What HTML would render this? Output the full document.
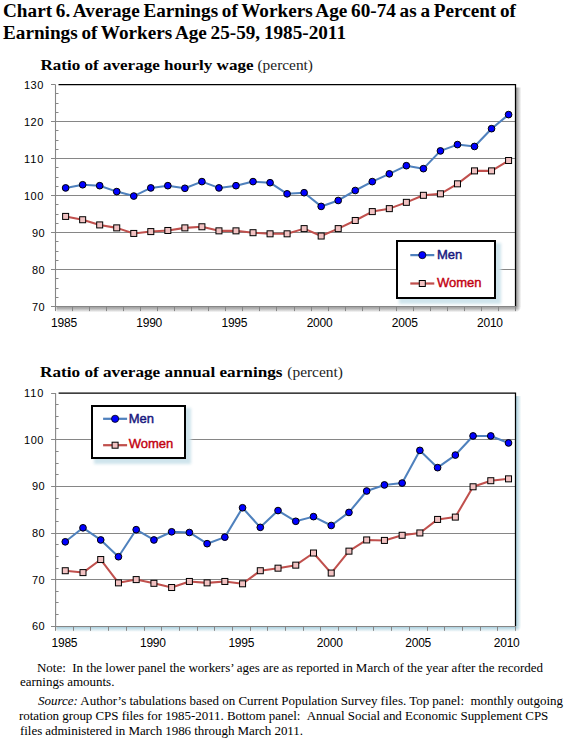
<!DOCTYPE html>
<html><head><meta charset="utf-8"><style>
html,body{margin:0;padding:0;background:#fff;width:567px;height:742px;overflow:hidden}
svg{display:block}
.ser{font-family:"Liberation Serif",serif}
.ax{font-family:"Liberation Sans",sans-serif;fill:#000}
.lg{font-family:"Liberation Sans",sans-serif}
</style></head><body>
<svg width="567" height="742" viewBox="0 0 567 742">
<defs>
<filter id="blur" x="-10%" y="-10%" width="120%" height="120%"><feGaussianBlur stdDeviation="1.6"/></filter>
<linearGradient id="gr" x1="0" x2="1" y1="0" y2="0"><stop offset="0" stop-color="#959595"/><stop offset="1" stop-color="#fafafa"/></linearGradient>
<linearGradient id="gb" x1="0" x2="0" y1="0" y2="1"><stop offset="0" stop-color="#959595"/><stop offset="1" stop-color="#fafafa"/></linearGradient>
<radialGradient id="gc" cx="0" cy="0" r="1"><stop offset="0" stop-color="#959595"/><stop offset="1" stop-color="#fff"/></radialGradient>
<linearGradient id="br" x1="0" x2="1" y1="0" y2="0"><stop offset="0" stop-color="#a8cedc"/><stop offset="1" stop-color="#fbfdfd"/></linearGradient>
<linearGradient id="bb" x1="0" x2="0" y1="0" y2="1"><stop offset="0" stop-color="#a8cedc"/><stop offset="1" stop-color="#fbfdfd"/></linearGradient>
<radialGradient id="bc" cx="0" cy="0" r="1"><stop offset="0" stop-color="#a8cedc"/><stop offset="1" stop-color="#fff"/></radialGradient>
<linearGradient id="gl"><stop offset="0" stop-color="#cfe4ec"/><stop offset="1" stop-color="#cfe4ec"/></linearGradient>
<linearGradient id="bl"><stop offset="0" stop-color="#cfe4ec"/><stop offset="1" stop-color="#cfe4ec"/></linearGradient>
</defs>
<g class="ser" font-weight="bold" font-size="18" fill="#000">
<text x="3" y="17" textLength="513" lengthAdjust="spacingAndGlyphs" word-spacing="-1">Chart 6. Average Earnings of Workers Age 60-74 as a Percent of</text>
<text x="3" y="38.7" textLength="343" lengthAdjust="spacingAndGlyphs" word-spacing="-1">Earnings of Workers Age 25-59, 1985-2011</text>
</g>
<g class="ser" font-size="14.3" fill="#000">
<text x="40.5" y="69.8"><tspan font-weight="bold" textLength="213" lengthAdjust="spacingAndGlyphs">Ratio of average hourly wage</tspan></text>
<text x="257.5" y="69.8" fill="#222" textLength="55.5" lengthAdjust="spacingAndGlyphs">(percent)</text>
<text x="40" y="376.8"><tspan font-weight="bold" textLength="242.5" lengthAdjust="spacingAndGlyphs">Ratio of average annual earnings</tspan></text>
<text x="287.3" y="376.8" fill="#222" textLength="55.6" lengthAdjust="spacingAndGlyphs">(percent)</text>
</g>
<rect x="516" y="87.5" width="5" height="219.6" fill="url(#gr)"/>
<rect x="56.5" y="307.1" width="459.5" height="5" fill="url(#gb)"/>
<rect x="516" y="307.1" width="5" height="5" fill="url(#gc)"/>
<rect x="55.5" y="84.5" width="460" height="222.1" fill="#fff"/>
<line x1="55.5" y1="269.5" x2="515.5" y2="269.5" stroke="#868686" stroke-width="1"/>
<line x1="55.5" y1="232.5" x2="515.5" y2="232.5" stroke="#868686" stroke-width="1"/>
<line x1="55.5" y1="195.5" x2="515.5" y2="195.5" stroke="#868686" stroke-width="1"/>
<line x1="55.5" y1="158.5" x2="515.5" y2="158.5" stroke="#868686" stroke-width="1"/>
<line x1="55.5" y1="121.5" x2="515.5" y2="121.5" stroke="#868686" stroke-width="1"/>
<path d="M58.5 84.5H515.5V306.6" fill="none" stroke="#000" stroke-width="1.25"/>
<line x1="55.5" y1="84.5" x2="55.5" y2="310.6" stroke="#868686" stroke-width="1.1"/>
<line x1="51" y1="306.5" x2="55.5" y2="306.5" stroke="#868686" stroke-width="1"/>
<text x="24" y="310.6" font-size="11" class="ax" textLength="12.6" lengthAdjust="spacing" dx="7.9">70</text>
<line x1="51" y1="269.5" x2="55.5" y2="269.5" stroke="#868686" stroke-width="1"/>
<text x="24" y="273.58" font-size="11" class="ax" textLength="12.6" lengthAdjust="spacing" dx="7.9">80</text>
<line x1="51" y1="232.5" x2="55.5" y2="232.5" stroke="#868686" stroke-width="1"/>
<text x="24" y="236.57" font-size="11" class="ax" textLength="12.6" lengthAdjust="spacing" dx="7.9">90</text>
<line x1="51" y1="195.5" x2="55.5" y2="195.5" stroke="#868686" stroke-width="1"/>
<text x="24" y="199.55" font-size="11" class="ax" textLength="19.3" lengthAdjust="spacing" dx="0">100</text>
<line x1="51" y1="158.5" x2="55.5" y2="158.5" stroke="#868686" stroke-width="1"/>
<text x="24" y="162.53" font-size="11" class="ax" textLength="19.3" lengthAdjust="spacing" dx="0">110</text>
<line x1="51" y1="121.5" x2="55.5" y2="121.5" stroke="#868686" stroke-width="1"/>
<text x="24" y="125.52" font-size="11" class="ax" textLength="19.3" lengthAdjust="spacing" dx="0">120</text>
<line x1="51" y1="84.5" x2="55.5" y2="84.5" stroke="#868686" stroke-width="1"/>
<text x="24" y="88.5" font-size="11" class="ax" textLength="19.3" lengthAdjust="spacing" dx="0">130</text>
<line x1="55.5" y1="297.5" x2="58.5" y2="297.5" stroke="#868686" stroke-width="1"/>
<line x1="55.5" y1="288.5" x2="58.5" y2="288.5" stroke="#868686" stroke-width="1"/>
<line x1="55.5" y1="278.5" x2="58.5" y2="278.5" stroke="#868686" stroke-width="1"/>
<line x1="55.5" y1="260.5" x2="58.5" y2="260.5" stroke="#868686" stroke-width="1"/>
<line x1="55.5" y1="251.5" x2="58.5" y2="251.5" stroke="#868686" stroke-width="1"/>
<line x1="55.5" y1="241.5" x2="58.5" y2="241.5" stroke="#868686" stroke-width="1"/>
<line x1="55.5" y1="223.5" x2="58.5" y2="223.5" stroke="#868686" stroke-width="1"/>
<line x1="55.5" y1="214.5" x2="58.5" y2="214.5" stroke="#868686" stroke-width="1"/>
<line x1="55.5" y1="204.5" x2="58.5" y2="204.5" stroke="#868686" stroke-width="1"/>
<line x1="55.5" y1="186.5" x2="58.5" y2="186.5" stroke="#868686" stroke-width="1"/>
<line x1="55.5" y1="177.5" x2="58.5" y2="177.5" stroke="#868686" stroke-width="1"/>
<line x1="55.5" y1="167.5" x2="58.5" y2="167.5" stroke="#868686" stroke-width="1"/>
<line x1="55.5" y1="149.5" x2="58.5" y2="149.5" stroke="#868686" stroke-width="1"/>
<line x1="55.5" y1="140.5" x2="58.5" y2="140.5" stroke="#868686" stroke-width="1"/>
<line x1="55.5" y1="130.5" x2="58.5" y2="130.5" stroke="#868686" stroke-width="1"/>
<line x1="55.5" y1="112.5" x2="58.5" y2="112.5" stroke="#868686" stroke-width="1"/>
<line x1="55.5" y1="103.5" x2="58.5" y2="103.5" stroke="#868686" stroke-width="1"/>
<line x1="55.5" y1="93.5" x2="58.5" y2="93.5" stroke="#868686" stroke-width="1"/>
<line x1="51" y1="306.5" x2="515.5" y2="306.5" stroke="#868686" stroke-width="1.1"/>
<line x1="55.5" y1="306.6" x2="55.5" y2="311.1" stroke="#868686" stroke-width="1"/>
<line x1="72.5" y1="306.6" x2="72.5" y2="311.1" stroke="#868686" stroke-width="1"/>
<line x1="89.5" y1="306.6" x2="89.5" y2="311.1" stroke="#868686" stroke-width="1"/>
<line x1="106.5" y1="306.6" x2="106.5" y2="311.1" stroke="#868686" stroke-width="1"/>
<line x1="123.5" y1="306.6" x2="123.5" y2="311.1" stroke="#868686" stroke-width="1"/>
<line x1="140.5" y1="306.6" x2="140.5" y2="311.1" stroke="#868686" stroke-width="1"/>
<line x1="157.5" y1="306.6" x2="157.5" y2="311.1" stroke="#868686" stroke-width="1"/>
<line x1="174.5" y1="306.6" x2="174.5" y2="311.1" stroke="#868686" stroke-width="1"/>
<line x1="191.5" y1="306.6" x2="191.5" y2="311.1" stroke="#868686" stroke-width="1"/>
<line x1="208.5" y1="306.6" x2="208.5" y2="311.1" stroke="#868686" stroke-width="1"/>
<line x1="225.5" y1="306.6" x2="225.5" y2="311.1" stroke="#868686" stroke-width="1"/>
<line x1="242.5" y1="306.6" x2="242.5" y2="311.1" stroke="#868686" stroke-width="1"/>
<line x1="259.5" y1="306.6" x2="259.5" y2="311.1" stroke="#868686" stroke-width="1"/>
<line x1="276.5" y1="306.6" x2="276.5" y2="311.1" stroke="#868686" stroke-width="1"/>
<line x1="294.5" y1="306.6" x2="294.5" y2="311.1" stroke="#868686" stroke-width="1"/>
<line x1="311.5" y1="306.6" x2="311.5" y2="311.1" stroke="#868686" stroke-width="1"/>
<line x1="328.5" y1="306.6" x2="328.5" y2="311.1" stroke="#868686" stroke-width="1"/>
<line x1="345.5" y1="306.6" x2="345.5" y2="311.1" stroke="#868686" stroke-width="1"/>
<line x1="362.5" y1="306.6" x2="362.5" y2="311.1" stroke="#868686" stroke-width="1"/>
<line x1="379.5" y1="306.6" x2="379.5" y2="311.1" stroke="#868686" stroke-width="1"/>
<line x1="396.5" y1="306.6" x2="396.5" y2="311.1" stroke="#868686" stroke-width="1"/>
<line x1="413.5" y1="306.6" x2="413.5" y2="311.1" stroke="#868686" stroke-width="1"/>
<line x1="430.5" y1="306.6" x2="430.5" y2="311.1" stroke="#868686" stroke-width="1"/>
<line x1="447.5" y1="306.6" x2="447.5" y2="311.1" stroke="#868686" stroke-width="1"/>
<line x1="464.5" y1="306.6" x2="464.5" y2="311.1" stroke="#868686" stroke-width="1"/>
<line x1="481.5" y1="306.6" x2="481.5" y2="311.1" stroke="#868686" stroke-width="1"/>
<line x1="498.5" y1="306.6" x2="498.5" y2="311.1" stroke="#868686" stroke-width="1"/>
<line x1="515.5" y1="306.6" x2="515.5" y2="311.1" stroke="#868686" stroke-width="1"/>
<text x="51.12" y="327.1" font-size="12" class="ax" textLength="26" lengthAdjust="spacing">1985</text>
<text x="136.3" y="327.1" font-size="12" class="ax" textLength="26" lengthAdjust="spacing">1990</text>
<text x="221.49" y="327.1" font-size="12" class="ax" textLength="26" lengthAdjust="spacing">1995</text>
<text x="306.67" y="327.1" font-size="12" class="ax" textLength="26" lengthAdjust="spacing">2000</text>
<text x="391.86" y="327.1" font-size="12" class="ax" textLength="26" lengthAdjust="spacing">2005</text>
<text x="477.04" y="327.1" font-size="12" class="ax" textLength="26" lengthAdjust="spacing">2010</text>
<polyline points="65.62,216.41 82.66,219.74 99.69,224.92 116.73,227.88 133.77,233.44 150.8,231.59 167.84,230.48 184.88,227.88 201.91,226.77 218.95,230.85 235.99,230.85 253.03,232.7 270.06,233.81 287.1,233.81 304.14,228.62 321.17,236.03 338.21,228.62 355.25,220.48 372.29,211.6 389.32,208.64 406.36,202.34 423.4,195.31 440.43,193.83 457.47,183.83 474.51,170.88 491.54,170.88 508.58,160.51" fill="none" stroke="#C0504D" stroke-width="2.05" stroke-linejoin="round"/>
<rect x="62.62" y="213.41" width="6" height="6" fill="#F2C2C2" stroke="#000" stroke-width="1"/>
<rect x="79.66" y="216.74" width="6" height="6" fill="#F2C2C2" stroke="#000" stroke-width="1"/>
<rect x="96.69" y="221.92" width="6" height="6" fill="#F2C2C2" stroke="#000" stroke-width="1"/>
<rect x="113.73" y="224.88" width="6" height="6" fill="#F2C2C2" stroke="#000" stroke-width="1"/>
<rect x="130.77" y="230.44" width="6" height="6" fill="#F2C2C2" stroke="#000" stroke-width="1"/>
<rect x="147.8" y="228.59" width="6" height="6" fill="#F2C2C2" stroke="#000" stroke-width="1"/>
<rect x="164.84" y="227.48" width="6" height="6" fill="#F2C2C2" stroke="#000" stroke-width="1"/>
<rect x="181.88" y="224.88" width="6" height="6" fill="#F2C2C2" stroke="#000" stroke-width="1"/>
<rect x="198.91" y="223.77" width="6" height="6" fill="#F2C2C2" stroke="#000" stroke-width="1"/>
<rect x="215.95" y="227.85" width="6" height="6" fill="#F2C2C2" stroke="#000" stroke-width="1"/>
<rect x="232.99" y="227.85" width="6" height="6" fill="#F2C2C2" stroke="#000" stroke-width="1"/>
<rect x="250.03" y="229.7" width="6" height="6" fill="#F2C2C2" stroke="#000" stroke-width="1"/>
<rect x="267.06" y="230.81" width="6" height="6" fill="#F2C2C2" stroke="#000" stroke-width="1"/>
<rect x="284.1" y="230.81" width="6" height="6" fill="#F2C2C2" stroke="#000" stroke-width="1"/>
<rect x="301.14" y="225.62" width="6" height="6" fill="#F2C2C2" stroke="#000" stroke-width="1"/>
<rect x="318.17" y="233.03" width="6" height="6" fill="#F2C2C2" stroke="#000" stroke-width="1"/>
<rect x="335.21" y="225.62" width="6" height="6" fill="#F2C2C2" stroke="#000" stroke-width="1"/>
<rect x="352.25" y="217.48" width="6" height="6" fill="#F2C2C2" stroke="#000" stroke-width="1"/>
<rect x="369.29" y="208.6" width="6" height="6" fill="#F2C2C2" stroke="#000" stroke-width="1"/>
<rect x="386.32" y="205.64" width="6" height="6" fill="#F2C2C2" stroke="#000" stroke-width="1"/>
<rect x="403.36" y="199.34" width="6" height="6" fill="#F2C2C2" stroke="#000" stroke-width="1"/>
<rect x="420.4" y="192.31" width="6" height="6" fill="#F2C2C2" stroke="#000" stroke-width="1"/>
<rect x="437.43" y="190.83" width="6" height="6" fill="#F2C2C2" stroke="#000" stroke-width="1"/>
<rect x="454.47" y="180.83" width="6" height="6" fill="#F2C2C2" stroke="#000" stroke-width="1"/>
<rect x="471.51" y="167.88" width="6" height="6" fill="#F2C2C2" stroke="#000" stroke-width="1"/>
<rect x="488.54" y="167.88" width="6" height="6" fill="#F2C2C2" stroke="#000" stroke-width="1"/>
<rect x="505.58" y="157.51" width="6" height="6" fill="#F2C2C2" stroke="#000" stroke-width="1"/>
<polyline points="65.62,187.91 82.66,184.76 99.69,185.69 116.73,191.61 133.77,196.05 150.8,187.91 167.84,185.69 184.88,188.28 201.91,181.61 218.95,187.91 235.99,185.69 253.03,181.61 270.06,182.72 287.1,193.83 304.14,192.72 321.17,206.41 338.21,200.49 355.25,190.5 372.29,181.61 389.32,173.84 406.36,165.7 423.4,168.66 440.43,150.89 457.47,144.6 474.51,146.45 491.54,128.68 508.58,114.61" fill="none" stroke="#4F81BD" stroke-width="2.05" stroke-linejoin="round"/>
<circle cx="65.62" cy="187.91" r="3.35" fill="#0000FF" stroke="#000" stroke-width="1"/>
<circle cx="82.66" cy="184.76" r="3.35" fill="#0000FF" stroke="#000" stroke-width="1"/>
<circle cx="99.69" cy="185.69" r="3.35" fill="#0000FF" stroke="#000" stroke-width="1"/>
<circle cx="116.73" cy="191.61" r="3.35" fill="#0000FF" stroke="#000" stroke-width="1"/>
<circle cx="133.77" cy="196.05" r="3.35" fill="#0000FF" stroke="#000" stroke-width="1"/>
<circle cx="150.8" cy="187.91" r="3.35" fill="#0000FF" stroke="#000" stroke-width="1"/>
<circle cx="167.84" cy="185.69" r="3.35" fill="#0000FF" stroke="#000" stroke-width="1"/>
<circle cx="184.88" cy="188.28" r="3.35" fill="#0000FF" stroke="#000" stroke-width="1"/>
<circle cx="201.91" cy="181.61" r="3.35" fill="#0000FF" stroke="#000" stroke-width="1"/>
<circle cx="218.95" cy="187.91" r="3.35" fill="#0000FF" stroke="#000" stroke-width="1"/>
<circle cx="235.99" cy="185.69" r="3.35" fill="#0000FF" stroke="#000" stroke-width="1"/>
<circle cx="253.03" cy="181.61" r="3.35" fill="#0000FF" stroke="#000" stroke-width="1"/>
<circle cx="270.06" cy="182.72" r="3.35" fill="#0000FF" stroke="#000" stroke-width="1"/>
<circle cx="287.1" cy="193.83" r="3.35" fill="#0000FF" stroke="#000" stroke-width="1"/>
<circle cx="304.14" cy="192.72" r="3.35" fill="#0000FF" stroke="#000" stroke-width="1"/>
<circle cx="321.17" cy="206.41" r="3.35" fill="#0000FF" stroke="#000" stroke-width="1"/>
<circle cx="338.21" cy="200.49" r="3.35" fill="#0000FF" stroke="#000" stroke-width="1"/>
<circle cx="355.25" cy="190.5" r="3.35" fill="#0000FF" stroke="#000" stroke-width="1"/>
<circle cx="372.29" cy="181.61" r="3.35" fill="#0000FF" stroke="#000" stroke-width="1"/>
<circle cx="389.32" cy="173.84" r="3.35" fill="#0000FF" stroke="#000" stroke-width="1"/>
<circle cx="406.36" cy="165.7" r="3.35" fill="#0000FF" stroke="#000" stroke-width="1"/>
<circle cx="423.4" cy="168.66" r="3.35" fill="#0000FF" stroke="#000" stroke-width="1"/>
<circle cx="440.43" cy="150.89" r="3.35" fill="#0000FF" stroke="#000" stroke-width="1"/>
<circle cx="457.47" cy="144.6" r="3.35" fill="#0000FF" stroke="#000" stroke-width="1"/>
<circle cx="474.51" cy="146.45" r="3.35" fill="#0000FF" stroke="#000" stroke-width="1"/>
<circle cx="491.54" cy="128.68" r="3.35" fill="#0000FF" stroke="#000" stroke-width="1"/>
<circle cx="508.58" cy="114.61" r="3.35" fill="#0000FF" stroke="#000" stroke-width="1"/>
<rect x="399" y="243" width="102" height="61" fill="url(#gl)" filter="url(#blur)"/>
<rect x="397" y="241" width="98" height="57" fill="#fff" stroke="#000" stroke-width="2"/>
<line x1="410.3" y1="255.1" x2="434.3" y2="255.1" stroke="#4F81BD" stroke-width="2.25"/>
<circle cx="422.3" cy="255.1" r="3.6" fill="#0000FF" stroke="#000" stroke-width="0.8"/>
<text x="437" y="259.1" font-size="13" class="lg" fill="#18187E" stroke="#18187E" stroke-width="0.45">Men</text>
<line x1="410.3" y1="283.5" x2="434.3" y2="283.5" stroke="#C0504D" stroke-width="2.25"/>
<rect x="419.3" y="280.5" width="6" height="6" fill="#F2C2C2" stroke="#000" stroke-width="1"/>
<text x="437" y="286.7" font-size="13" class="lg" fill="#C20010" stroke="#C20010" stroke-width="0.4">Women</text>
<rect x="516" y="396.1" width="5" height="230.7" fill="url(#br)"/>
<rect x="56.6" y="626.8" width="459.4" height="5" fill="url(#bb)"/>
<rect x="516" y="626.8" width="5" height="5" fill="url(#bc)"/>
<rect x="55.6" y="393.1" width="459.9" height="233.2" fill="#fff"/>
<line x1="55.6" y1="579.5" x2="515.5" y2="579.5" stroke="#868686" stroke-width="1"/>
<line x1="55.6" y1="533.5" x2="515.5" y2="533.5" stroke="#868686" stroke-width="1"/>
<line x1="55.6" y1="486.5" x2="515.5" y2="486.5" stroke="#868686" stroke-width="1"/>
<line x1="55.6" y1="439.5" x2="515.5" y2="439.5" stroke="#868686" stroke-width="1"/>
<path d="M58.6 393.1H515.5V626.3" fill="none" stroke="#000" stroke-width="1.25"/>
<line x1="55.6" y1="393.1" x2="55.6" y2="630.3" stroke="#868686" stroke-width="1.1"/>
<line x1="51.1" y1="626.5" x2="55.6" y2="626.5" stroke="#868686" stroke-width="1"/>
<text x="24.1" y="630.3" font-size="11" class="ax" textLength="12.6" lengthAdjust="spacing" dx="7.9">60</text>
<line x1="51.1" y1="579.5" x2="55.6" y2="579.5" stroke="#868686" stroke-width="1"/>
<text x="24.1" y="583.66" font-size="11" class="ax" textLength="12.6" lengthAdjust="spacing" dx="7.9">70</text>
<line x1="51.1" y1="533.5" x2="55.6" y2="533.5" stroke="#868686" stroke-width="1"/>
<text x="24.1" y="537.02" font-size="11" class="ax" textLength="12.6" lengthAdjust="spacing" dx="7.9">80</text>
<line x1="51.1" y1="486.5" x2="55.6" y2="486.5" stroke="#868686" stroke-width="1"/>
<text x="24.1" y="490.38" font-size="11" class="ax" textLength="12.6" lengthAdjust="spacing" dx="7.9">90</text>
<line x1="51.1" y1="439.5" x2="55.6" y2="439.5" stroke="#868686" stroke-width="1"/>
<text x="24.1" y="443.74" font-size="11" class="ax" textLength="19.3" lengthAdjust="spacing" dx="0">100</text>
<line x1="51.1" y1="393.5" x2="55.6" y2="393.5" stroke="#868686" stroke-width="1"/>
<text x="24.1" y="397.1" font-size="11" class="ax" textLength="19.3" lengthAdjust="spacing" dx="0">110</text>
<line x1="55.6" y1="614.5" x2="58.6" y2="614.5" stroke="#868686" stroke-width="1"/>
<line x1="55.6" y1="602.5" x2="58.6" y2="602.5" stroke="#868686" stroke-width="1"/>
<line x1="55.6" y1="591.5" x2="58.6" y2="591.5" stroke="#868686" stroke-width="1"/>
<line x1="55.6" y1="568.5" x2="58.6" y2="568.5" stroke="#868686" stroke-width="1"/>
<line x1="55.6" y1="556.5" x2="58.6" y2="556.5" stroke="#868686" stroke-width="1"/>
<line x1="55.6" y1="544.5" x2="58.6" y2="544.5" stroke="#868686" stroke-width="1"/>
<line x1="55.6" y1="521.5" x2="58.6" y2="521.5" stroke="#868686" stroke-width="1"/>
<line x1="55.6" y1="509.5" x2="58.6" y2="509.5" stroke="#868686" stroke-width="1"/>
<line x1="55.6" y1="498.5" x2="58.6" y2="498.5" stroke="#868686" stroke-width="1"/>
<line x1="55.6" y1="474.5" x2="58.6" y2="474.5" stroke="#868686" stroke-width="1"/>
<line x1="55.6" y1="463.5" x2="58.6" y2="463.5" stroke="#868686" stroke-width="1"/>
<line x1="55.6" y1="451.5" x2="58.6" y2="451.5" stroke="#868686" stroke-width="1"/>
<line x1="55.6" y1="428.5" x2="58.6" y2="428.5" stroke="#868686" stroke-width="1"/>
<line x1="55.6" y1="416.5" x2="58.6" y2="416.5" stroke="#868686" stroke-width="1"/>
<line x1="55.6" y1="404.5" x2="58.6" y2="404.5" stroke="#868686" stroke-width="1"/>
<line x1="51.1" y1="626.5" x2="515.5" y2="626.5" stroke="#868686" stroke-width="1.1"/>
<line x1="55.5" y1="626.3" x2="55.5" y2="630.8" stroke="#868686" stroke-width="1"/>
<line x1="73.5" y1="626.3" x2="73.5" y2="630.8" stroke="#868686" stroke-width="1"/>
<line x1="90.5" y1="626.3" x2="90.5" y2="630.8" stroke="#868686" stroke-width="1"/>
<line x1="108.5" y1="626.3" x2="108.5" y2="630.8" stroke="#868686" stroke-width="1"/>
<line x1="126.5" y1="626.3" x2="126.5" y2="630.8" stroke="#868686" stroke-width="1"/>
<line x1="144.5" y1="626.3" x2="144.5" y2="630.8" stroke="#868686" stroke-width="1"/>
<line x1="161.5" y1="626.3" x2="161.5" y2="630.8" stroke="#868686" stroke-width="1"/>
<line x1="179.5" y1="626.3" x2="179.5" y2="630.8" stroke="#868686" stroke-width="1"/>
<line x1="197.5" y1="626.3" x2="197.5" y2="630.8" stroke="#868686" stroke-width="1"/>
<line x1="214.5" y1="626.3" x2="214.5" y2="630.8" stroke="#868686" stroke-width="1"/>
<line x1="232.5" y1="626.3" x2="232.5" y2="630.8" stroke="#868686" stroke-width="1"/>
<line x1="250.5" y1="626.3" x2="250.5" y2="630.8" stroke="#868686" stroke-width="1"/>
<line x1="267.5" y1="626.3" x2="267.5" y2="630.8" stroke="#868686" stroke-width="1"/>
<line x1="285.5" y1="626.3" x2="285.5" y2="630.8" stroke="#868686" stroke-width="1"/>
<line x1="303.5" y1="626.3" x2="303.5" y2="630.8" stroke="#868686" stroke-width="1"/>
<line x1="320.5" y1="626.3" x2="320.5" y2="630.8" stroke="#868686" stroke-width="1"/>
<line x1="338.5" y1="626.3" x2="338.5" y2="630.8" stroke="#868686" stroke-width="1"/>
<line x1="356.5" y1="626.3" x2="356.5" y2="630.8" stroke="#868686" stroke-width="1"/>
<line x1="373.5" y1="626.3" x2="373.5" y2="630.8" stroke="#868686" stroke-width="1"/>
<line x1="391.5" y1="626.3" x2="391.5" y2="630.8" stroke="#868686" stroke-width="1"/>
<line x1="409.5" y1="626.3" x2="409.5" y2="630.8" stroke="#868686" stroke-width="1"/>
<line x1="427.5" y1="626.3" x2="427.5" y2="630.8" stroke="#868686" stroke-width="1"/>
<line x1="444.5" y1="626.3" x2="444.5" y2="630.8" stroke="#868686" stroke-width="1"/>
<line x1="462.5" y1="626.3" x2="462.5" y2="630.8" stroke="#868686" stroke-width="1"/>
<line x1="480.5" y1="626.3" x2="480.5" y2="630.8" stroke="#868686" stroke-width="1"/>
<line x1="497.5" y1="626.3" x2="497.5" y2="630.8" stroke="#868686" stroke-width="1"/>
<line x1="515.5" y1="626.3" x2="515.5" y2="630.8" stroke="#868686" stroke-width="1"/>
<text x="51.54" y="646.8" font-size="12" class="ax" textLength="26" lengthAdjust="spacing">1985</text>
<text x="139.99" y="646.8" font-size="12" class="ax" textLength="26" lengthAdjust="spacing">1990</text>
<text x="228.43" y="646.8" font-size="12" class="ax" textLength="26" lengthAdjust="spacing">1995</text>
<text x="316.87" y="646.8" font-size="12" class="ax" textLength="26" lengthAdjust="spacing">2000</text>
<text x="405.31" y="646.8" font-size="12" class="ax" textLength="26" lengthAdjust="spacing">2005</text>
<text x="493.76" y="646.8" font-size="12" class="ax" textLength="26" lengthAdjust="spacing">2010</text>
<polyline points="65.27,570.73 82.99,572.6 100.73,559.54 118.45,582.86 136.19,579.59 153.92,583.32 171.65,587.52 189.38,581.46 207.11,582.86 224.84,581.46 242.56,583.79 260.3,570.73 278.03,568.17 295.76,565.14 313.49,553.01 331.22,573.06 348.95,551.14 366.68,539.95 384.41,540.42 402.14,535.29 419.87,532.95 437.6,519.43 455.33,517.1 473.06,486.78 490.79,480.72 508.52,478.85" fill="none" stroke="#C0504D" stroke-width="2.05" stroke-linejoin="round"/>
<rect x="62.27" y="567.73" width="6" height="6" fill="#F2C2C2" stroke="#000" stroke-width="1"/>
<rect x="79.99" y="569.6" width="6" height="6" fill="#F2C2C2" stroke="#000" stroke-width="1"/>
<rect x="97.73" y="556.54" width="6" height="6" fill="#F2C2C2" stroke="#000" stroke-width="1"/>
<rect x="115.45" y="579.86" width="6" height="6" fill="#F2C2C2" stroke="#000" stroke-width="1"/>
<rect x="133.19" y="576.59" width="6" height="6" fill="#F2C2C2" stroke="#000" stroke-width="1"/>
<rect x="150.92" y="580.32" width="6" height="6" fill="#F2C2C2" stroke="#000" stroke-width="1"/>
<rect x="168.65" y="584.52" width="6" height="6" fill="#F2C2C2" stroke="#000" stroke-width="1"/>
<rect x="186.38" y="578.46" width="6" height="6" fill="#F2C2C2" stroke="#000" stroke-width="1"/>
<rect x="204.11" y="579.86" width="6" height="6" fill="#F2C2C2" stroke="#000" stroke-width="1"/>
<rect x="221.84" y="578.46" width="6" height="6" fill="#F2C2C2" stroke="#000" stroke-width="1"/>
<rect x="239.56" y="580.79" width="6" height="6" fill="#F2C2C2" stroke="#000" stroke-width="1"/>
<rect x="257.3" y="567.73" width="6" height="6" fill="#F2C2C2" stroke="#000" stroke-width="1"/>
<rect x="275.03" y="565.17" width="6" height="6" fill="#F2C2C2" stroke="#000" stroke-width="1"/>
<rect x="292.76" y="562.14" width="6" height="6" fill="#F2C2C2" stroke="#000" stroke-width="1"/>
<rect x="310.49" y="550.01" width="6" height="6" fill="#F2C2C2" stroke="#000" stroke-width="1"/>
<rect x="328.22" y="570.06" width="6" height="6" fill="#F2C2C2" stroke="#000" stroke-width="1"/>
<rect x="345.95" y="548.14" width="6" height="6" fill="#F2C2C2" stroke="#000" stroke-width="1"/>
<rect x="363.68" y="536.95" width="6" height="6" fill="#F2C2C2" stroke="#000" stroke-width="1"/>
<rect x="381.41" y="537.42" width="6" height="6" fill="#F2C2C2" stroke="#000" stroke-width="1"/>
<rect x="399.14" y="532.29" width="6" height="6" fill="#F2C2C2" stroke="#000" stroke-width="1"/>
<rect x="416.87" y="529.95" width="6" height="6" fill="#F2C2C2" stroke="#000" stroke-width="1"/>
<rect x="434.6" y="516.43" width="6" height="6" fill="#F2C2C2" stroke="#000" stroke-width="1"/>
<rect x="452.33" y="514.1" width="6" height="6" fill="#F2C2C2" stroke="#000" stroke-width="1"/>
<rect x="470.06" y="483.78" width="6" height="6" fill="#F2C2C2" stroke="#000" stroke-width="1"/>
<rect x="487.79" y="477.72" width="6" height="6" fill="#F2C2C2" stroke="#000" stroke-width="1"/>
<rect x="505.52" y="475.85" width="6" height="6" fill="#F2C2C2" stroke="#000" stroke-width="1"/>
<polyline points="65.27,541.82 82.99,527.82 100.73,539.95 118.45,556.74 136.19,529.69 153.92,539.95 171.65,531.79 189.38,532.49 207.11,543.68 224.84,537.15 242.56,507.77 260.3,527.36 278.03,510.57 295.76,521.29 313.49,516.63 331.22,525.49 348.95,512.43 366.68,490.98 384.41,484.91 402.14,483.05 419.87,450.4 437.6,467.66 455.33,455.06 473.06,435.94 490.79,435.94 508.52,442.94" fill="none" stroke="#4F81BD" stroke-width="2.05" stroke-linejoin="round"/>
<circle cx="65.27" cy="541.82" r="3.35" fill="#0000FF" stroke="#000" stroke-width="1"/>
<circle cx="82.99" cy="527.82" r="3.35" fill="#0000FF" stroke="#000" stroke-width="1"/>
<circle cx="100.73" cy="539.95" r="3.35" fill="#0000FF" stroke="#000" stroke-width="1"/>
<circle cx="118.45" cy="556.74" r="3.35" fill="#0000FF" stroke="#000" stroke-width="1"/>
<circle cx="136.19" cy="529.69" r="3.35" fill="#0000FF" stroke="#000" stroke-width="1"/>
<circle cx="153.92" cy="539.95" r="3.35" fill="#0000FF" stroke="#000" stroke-width="1"/>
<circle cx="171.65" cy="531.79" r="3.35" fill="#0000FF" stroke="#000" stroke-width="1"/>
<circle cx="189.38" cy="532.49" r="3.35" fill="#0000FF" stroke="#000" stroke-width="1"/>
<circle cx="207.11" cy="543.68" r="3.35" fill="#0000FF" stroke="#000" stroke-width="1"/>
<circle cx="224.84" cy="537.15" r="3.35" fill="#0000FF" stroke="#000" stroke-width="1"/>
<circle cx="242.56" cy="507.77" r="3.35" fill="#0000FF" stroke="#000" stroke-width="1"/>
<circle cx="260.3" cy="527.36" r="3.35" fill="#0000FF" stroke="#000" stroke-width="1"/>
<circle cx="278.03" cy="510.57" r="3.35" fill="#0000FF" stroke="#000" stroke-width="1"/>
<circle cx="295.76" cy="521.29" r="3.35" fill="#0000FF" stroke="#000" stroke-width="1"/>
<circle cx="313.49" cy="516.63" r="3.35" fill="#0000FF" stroke="#000" stroke-width="1"/>
<circle cx="331.22" cy="525.49" r="3.35" fill="#0000FF" stroke="#000" stroke-width="1"/>
<circle cx="348.95" cy="512.43" r="3.35" fill="#0000FF" stroke="#000" stroke-width="1"/>
<circle cx="366.68" cy="490.98" r="3.35" fill="#0000FF" stroke="#000" stroke-width="1"/>
<circle cx="384.41" cy="484.91" r="3.35" fill="#0000FF" stroke="#000" stroke-width="1"/>
<circle cx="402.14" cy="483.05" r="3.35" fill="#0000FF" stroke="#000" stroke-width="1"/>
<circle cx="419.87" cy="450.4" r="3.35" fill="#0000FF" stroke="#000" stroke-width="1"/>
<circle cx="437.6" cy="467.66" r="3.35" fill="#0000FF" stroke="#000" stroke-width="1"/>
<circle cx="455.33" cy="455.06" r="3.35" fill="#0000FF" stroke="#000" stroke-width="1"/>
<circle cx="473.06" cy="435.94" r="3.35" fill="#0000FF" stroke="#000" stroke-width="1"/>
<circle cx="490.79" cy="435.94" r="3.35" fill="#0000FF" stroke="#000" stroke-width="1"/>
<circle cx="508.52" cy="442.94" r="3.35" fill="#0000FF" stroke="#000" stroke-width="1"/>
<rect x="94" y="408" width="97" height="56" fill="url(#bl)" filter="url(#blur)"/>
<rect x="92" y="406" width="93" height="52" fill="#fff" stroke="#000" stroke-width="2"/>
<line x1="103.1" y1="418.8" x2="127.1" y2="418.8" stroke="#4F81BD" stroke-width="2.25"/>
<circle cx="115.1" cy="418.8" r="3.6" fill="#0000FF" stroke="#000" stroke-width="0.8"/>
<text x="128.7" y="422.8" font-size="13" class="lg" fill="#18187E" stroke="#18187E" stroke-width="0.45">Men</text>
<line x1="103.1" y1="445.2" x2="127.1" y2="445.2" stroke="#C0504D" stroke-width="2.25"/>
<rect x="112.1" y="442.2" width="6" height="6" fill="#F2C2C2" stroke="#000" stroke-width="1"/>
<text x="128.7" y="448.4" font-size="13" class="lg" fill="#C20010" stroke="#C20010" stroke-width="0.4">Women</text>
<g class="ser" font-size="13" fill="#000" style="white-space:pre">
<text x="37" y="671.5" textLength="506" lengthAdjust="spacing">Note: &#160;In the lower panel the workers’ ages are as reported in March of the year after the recorded</text>
<text x="20" y="685.7" textLength="94.4" lengthAdjust="spacing">earnings amounts.</text>
<text x="38" y="704.8" textLength="525" lengthAdjust="spacing"><tspan font-style="italic">Source:</tspan> Author’s tabulations based on Current Population Survey files. Top panel: &#160;monthly outgoing</text>
<text x="19" y="719.6" textLength="529.3" lengthAdjust="spacing">rotation group CPS files for 1985-2011. Bottom panel: &#160;Annual Social and Economic Supplement CPS</text>
<text x="20" y="734.6" textLength="283" lengthAdjust="spacing">files administered in March 1986 through March 2011.</text>
</g>
</svg>
</body></html>
